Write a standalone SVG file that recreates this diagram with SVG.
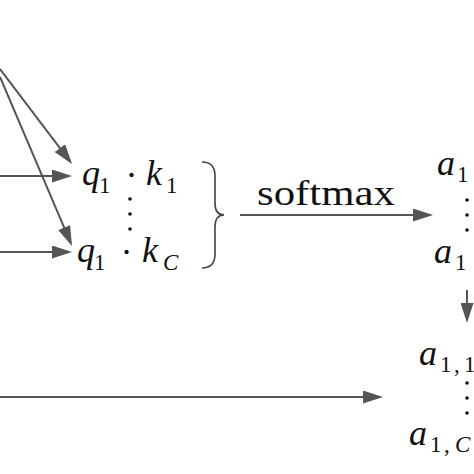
<svg xmlns="http://www.w3.org/2000/svg" width="474" height="474" viewBox="0 0 474 474">
<style>
  text { font-family: "Liberation Serif", "DejaVu Serif", serif; fill: #111; }
  .main { font-size: 36px; }
  .mi { font-style: italic; }
  .sub { font-size: 23px; }
  .conn line { stroke: #555; stroke-width: 2; fill: none; }
  .dot { fill: #111; }
  .brace { stroke: #444; stroke-width: 1.6; fill: none; }
</style>
<defs>
  <marker id="arr" markerUnits="userSpaceOnUse" markerWidth="20" markerHeight="13" refX="17" refY="6.5" orient="auto">
    <path d="M0,0 L20,6.5 L0,13 z" fill="#555"/>
  </marker>
</defs>
<rect width="474" height="474" fill="#fff"/>

<g id="connectors" class="conn">
  <line x1="0" y1="69" x2="70.2" y2="161.6" marker-end="url(#arr)"/>
  <line x1="0" y1="77" x2="70.8" y2="243.2" marker-end="url(#arr)"/>
  <line x1="0" y1="176" x2="69" y2="176" marker-end="url(#arr)"/>
  <line x1="0" y1="252" x2="69" y2="252" marker-end="url(#arr)"/>
  <line x1="240" y1="215" x2="430" y2="215" marker-end="url(#arr)"/>
  <line x1="467" y1="290" x2="467" y2="320" marker-end="url(#arr)"/>
  <line x1="0" y1="397" x2="380" y2="397" marker-end="url(#arr)"/>
</g>

<g id="dot-products">
  <text class="main" y="185"><tspan x="82" class="mi">q</tspan><tspan x="99" y="193" class="sub">1</tspan><tspan x="125.5" y="187">·</tspan><tspan x="146" y="185" class="mi">k</tspan><tspan x="166" y="193" class="sub">1</tspan></text>
  <circle class="dot" cx="130" cy="199" r="1.8"/>
  <circle class="dot" cx="130" cy="214" r="1.8"/>
  <circle class="dot" cx="130" cy="229" r="1.8"/>
  <text class="main" y="262"><tspan x="77" class="mi">q</tspan><tspan x="94" y="270" class="sub">1</tspan><tspan x="120.5" y="264">·</tspan><tspan x="142" y="262" class="mi">k</tspan><tspan x="163" y="270" class="sub mi">C</tspan></text>
</g>

<g id="brace">
  <path class="brace" d="M202,162 Q215,162 215,176 L215,203 Q215,215 224,215 Q215,215 215,227 L215,254 Q215,268 202,268"/>
</g>

<g id="softmax-label">
  <text class="main" x="257" y="205" font-size="34" textLength="138" lengthAdjust="spacingAndGlyphs">softmax</text>
</g>

<g id="attention-scores">
  <text class="main" y="175"><tspan x="437" class="mi">a</tspan><tspan x="457" y="182" class="sub">1</tspan></text>
  <circle class="dot" cx="467" cy="200" r="1.8"/>
  <circle class="dot" cx="467" cy="215" r="1.8"/>
  <circle class="dot" cx="467" cy="230" r="1.8"/>
  <text class="main" y="263"><tspan x="434" class="mi">a</tspan><tspan x="455" y="270" class="sub">1</tspan></text>
</g>

<g id="attention-weights">
  <text class="main" y="365"><tspan x="419" class="mi">a</tspan><tspan x="440" y="372" class="sub">1</tspan><tspan x="454" y="372" class="sub">,</tspan><tspan x="464" y="372" class="sub">1</tspan></text>
  <circle class="dot" cx="467" cy="383" r="1.8"/>
  <circle class="dot" cx="467" cy="398" r="1.8"/>
  <circle class="dot" cx="467" cy="413" r="1.8"/>
  <text class="main" y="445"><tspan x="409" class="mi">a</tspan><tspan x="430" y="452" class="sub">1</tspan><tspan x="444" y="452" class="sub">,</tspan><tspan x="455" y="452" class="sub mi">C</tspan></text>
</g>
</svg>
